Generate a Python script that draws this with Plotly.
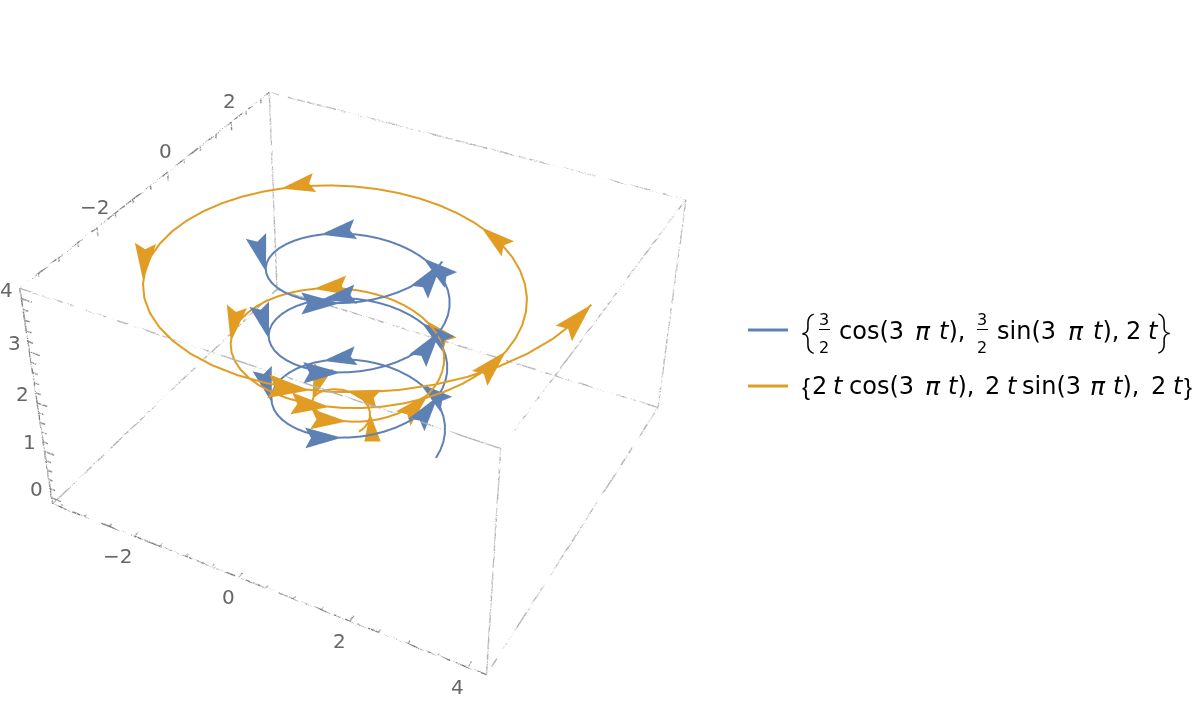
import numpy as np
import plotly.graph_objects as go

# ---- curve samples
blue_z = [0,.0278,.0556,.0833,.1111,.1389,.1667,.1944,.2222,.25,.2778,.3056,.3333,.3611,.3889,.4167,.4444,.4722,
          .5,.5278,.5556,.5833,.6111,.6389,.6667,.6944,.7222,.75,.7778,.8056,.8333,.8611,.8889,.9167,.9444,.9722,
          1,1.0278,1.0556,1.0833,1.1111,1.1389,1.1667,1.1944,1.2222,1.25,1.2778,1.3056,1.3333,1.3611,1.3889,1.4167,1.4444,1.4722,
          1.5,1.5278,1.5556,1.5833,1.6111,1.6389,1.6667,1.6944,1.7222,1.75,1.7778,1.8056,1.8333,1.8611,1.8889,1.9167,1.9444,1.9722,
          2,2.0278,2.0556,2.0833,2.1111,2.1389,2.1667,2.1944,2.2222,2.25,2.2778,2.3056,2.3333,2.3611,2.3889,2.4167,2.4444,2.4722,
          2.5,2.5278,2.5556,2.5833,2.6111,2.6389,2.6667,2.6944,2.7222,2.75,2.7778,2.8056,2.8333,2.8611,2.8889,2.9167,2.9444,2.9722,
          3,3.0278,3.0556,3.0833,3.1111,3.1389,3.1667,3.1944,3.2222,3.25,3.2778,3.3056,3.3333,3.3611,3.3889,3.4167,3.4444,3.4722,
          3.5,3.5278,3.5556,3.5833,3.6111,3.6389,3.6667,3.6944,3.7222,3.75,3.7778,3.8056,3.8333,3.8611,3.8889,3.9167,3.9444,3.9722,4]
blue_turn_x = [1.5,1.4872,1.4489,1.3858,1.299,1.19,1.0607,.9131,.75,.574,.3882,.1958,0,-.1958,-.3882,-.574,-.75,-.9131,-1.0607,-1.19,-1.299,-1.3858,-1.4489,-1.4872,
               -1.5,-1.4872,-1.4489,-1.3858,-1.299,-1.19,-1.0607,-.9131,-.75,-.574,-.3882,-.1958,0,.1958,.3882,.574,.75,.9131,1.0607,1.19,1.299,1.3858,1.4489,1.4872]
blue_turn_y = [0,.1958,.3882,.574,.75,.9131,1.0607,1.19,1.299,1.3858,1.4489,1.4872,1.5,1.4872,1.4489,1.3858,1.299,1.19,1.0607,.9131,.75,.574,.3882,.1958,
               0,-.1958,-.3882,-.574,-.75,-.9131,-1.0607,-1.19,-1.299,-1.3858,-1.4489,-1.4872,-1.5,-1.4872,-1.4489,-1.3858,-1.299,-1.19,-1.0607,-.9131,-.75,-.574,-.3882,-.1958]
blue_x = blue_turn_x*3 + [1.5]
blue_y = blue_turn_y*3 + [0]
orange_z = [0,.0556,.1111,.1667,.2222,.2778,.3333,.3889,.4444,.5,.5556,.6111,.6667,.7222,.7778,.8333,.8889,.9444] + blue_z[36:]
orange_x = [0,.0537,.0962,.1179,.1111,.0719,0,-.1007,-.2222,-.3536,-.4811,-.5903,-.6667,-.6976,-.6736,-.5893,-.4444,-.2444,
  0,.1342,.2732,.4146,.5556,.6933,.825,.9476,1.0585,1.1549,1.2342,1.2944,1.3333,1.3495,1.3416,1.3088,1.2509,1.168,1.0607,.93,.7778,.6059,.417,.2139,
  0,-.2212,-.4457,-.6697,-.8889,-1.0992,-1.2964,-1.4765,-1.6358,-1.7708,-1.8782,-1.9553,-2,-2.0104,-1.9855,-1.9248,-1.8283,-1.6969,-1.5321,-1.3359,-1.1111,-.861,-.5895,-.3009,
  0,.3082,.6183,.9248,1.2222,1.505,1.7678,2.0054,2.2132,2.3867,2.5222,2.6163,2.6667,2.6714,2.6295,2.5407,2.4056,2.2258,2.0035,1.7417,1.4444,1.1162,.7621,.388,
  0,-.3952,-.7908,-1.1799,-1.5556,-1.9108,-2.2392,-2.5344,-2.7905,-3.0026,-3.1661,-3.2773,-3.3333,-3.3323,-3.2734,-3.1566,-2.983,-2.7547,-2.4749,-2.1476,-1.7778,-1.3713,-.9346,-.475,
  0,.4822,.9634,1.4351,1.8889,2.3167,2.7106,3.0632,3.3679,3.6185,3.8101,3.9382,4]
orange_y = [0,.0144,.0556,.1179,.1925,.2683,.3333,.3757,.3849,.3536,.2778,.1582,0,-.1869,-.3889,-.5893,-.7698,-.9122,
  -1,-1.019,-1.0196,-1.0009,-.9623,-.9035,-.825,-.7271,-.6111,-.4784,-.3307,-.1704,0,.1777,.3595,.5421,.7222,.8962,1.0607,1.2121,1.3472,1.4628,1.5562,1.6249,
  1.6667,1.6799,1.6636,1.6168,1.5396,1.4324,1.2964,1.133,.9444,.7335,.5033,.2574,0,-.2647,-.532,-.7973,-1.0556,-1.3021,-1.5321,-1.741,-1.9245,-2.0787,-2.2002,-2.2858,
  -2.3333,-2.3409,-2.3075,-2.2327,-2.117,-1.9613,-1.7678,-1.5388,-1.2778,-.9886,-.6758,-.3445,0,.3517,.7046,1.0524,1.3889,1.7079,2.0035,2.2699,2.5019,2.6947,2.8441,2.9468,
  3,3.0019,2.9515,2.8486,2.6943,2.4902,2.2392,1.9446,1.6111,1.2437,.8484,.4315,0,-.4387,-.8771,-1.3075,-1.7222,-2.1138,-2.4749,-2.7988,-3.0792,-3.3106,-3.4881,-3.6077,
  -3.6667,-3.6628,-3.5955,-3.4646,-3.2717,-3.0191,-2.7106,-2.3505,-1.9444,-1.4988,-1.0209,-.5185,0]

# ---- arrow tips and travel directions
arrow_z = [.2667,.5333,.8,1.0667,1.3333,1.6,1.8667,2.1333,2.4,2.6667,2.9333,3.2,3.4667,3.7333,4]
blue_tip_x = [.4635,-1.2135,-1.2135,.4635,1.5]*3
blue_tip_y = [1.4266,.8817,-.8817,-1.4266,0]*3
blue_dir_x = [-1.4266,-.8817,.8817,1.4266,0]*3
blue_dir_y = [.4635,-1.2135,-1.2135,.4635,1.5]*3
orange_tip_x = [.0824,-.4315,-.6472,.3296,1.3333,.4944,-1.5101,-1.7259,.7416,2.6667,.9064,-2.5888,-2.8045,1.1536,4]
orange_tip_y = [.2536,.3135,-.4702,-1.0145,0,1.5217,1.0972,-1.2540,-2.2826,0,2.7898,1.8810,-2.0377,-3.5507,0]
orange_dir_x = [-.188,-.4852,.2985,1.0801,.2122,-1.4561,-1.2689,.85,2.3482,.2122,-2.7242,-2.0527,1.55,3.6163,.2122]
orange_dir_y = [.2842,-.3068,-.7719,.1278,1.3333,.6962,-1.3854,-1.97,.5398,2.6667,1.1082,-2.4641,-3.11,.9518,4]
dir_z = .2122

# ---- axes
x_range = [-3.651, 4.307]
y_range = [-3.959, 3.3]
z_range = [-0.136, 4.192]
x_major = [-2, 0, 2, 4]
y_major = [-2, 0, 2]
z_major = [0, 1, 2, 3, 4]
x_minor = [-3.5, -3, -2.5, -1.5, -1, -.5, .5, 1, 1.5, 2.5, 3, 3.5]
y_minor = [-3.5, -3, -2.5, -1.5, -1, -.5, .5, 1, 1.5, 2.5, 3]
z_minor = [.2,.4,.6,.8,1.2,1.4,1.6,1.8,2.2,2.4,2.6,2.8,3.2,3.4,3.6,3.8]

legend_lines = ["#5E81B5", "#E19C24"]
BLUE, ORANGE = legend_lines
EYE = np.array([1.297, -2.397, 1.998])
FIG_W, FIG_H, TOP, LEFT = 1671, 1350, -322, -469
MONO = 'DejaVu Sans'

def arrow_mesh(tx, ty, tz, dx, dy, dz, color, length=.6, half=.17, notch=.84):
    view = EYE / np.linalg.norm(EYE)
    vx, vy, vz, ii, jj, kk = [], [], [], [], [], []
    for a, b, c, u, v, w in zip(tx, ty, tz, dx, dy, [dz]*len(tx)):
        tip = np.array([a, b, c]); d = np.array([u, v, w], float)
        d = d - d.dot(view)*view
        d /= np.linalg.norm(d)
        s = np.cross(d, view); s /= np.linalg.norm(s)
        pts = [tip, tip-length*d+half*s, tip-notch*length*d, tip-length*d-half*s]
        n = len(vx)
        for p in pts:
            vx.append(p[0]); vy.append(p[1]); vz.append(p[2])
        ii += [n, n]; jj += [n+1, n+2]; kk += [n+2, n+3]
    return go.Mesh3d(x=vx, y=vy, z=vz, i=ii, j=jj, k=kk, color=color, flatshading=True, opacity=1,
                     lighting=dict(ambient=1, diffuse=0, specular=0, roughness=1, fresnel=0),
                     hoverinfo='skip', showscale=False, showlegend=False)

def lines3d(segs, color, width=3, pieces=40):
    X, Y, Z = [], [], []
    for p, q in segs:
        a = np.linspace(p, q, pieces + 1)
        X += list(a[:, 0]) + [None]; Y += list(a[:, 1]) + [None]; Z += list(a[:, 2]) + [None]
    return go.Scatter3d(x=X, y=Y, z=Z, mode='lines', line=dict(color=color, width=width), hoverinfo='skip', showlegend=False)

x0, x1 = x_range; y0, y1 = y_range; z0, z1 = z_range
light_edges = [((x1,y0,z0),(x1,y1,z0)), ((x1,y1,z0),(x0,y1,z0)), ((x0,y1,z0),(x0,y0,z0)),
               ((x0,y0,z1),(x1,y0,z1)), ((x1,y0,z1),(x1,y1,z1)), ((x1,y1,z1),(x0,y1,z1)),
               ((x1,y0,z0),(x1,y0,z1)), ((x1,y1,z0),(x1,y1,z1)), ((x0,y1,z0),(x0,y1,z1))]
dark_edges = [((x0,y0,z0),(x1,y0,z0)), ((x0,y0,z1),(x0,y1,z1)), ((x0,y0,z0),(x0,y0,z1))]
ticks = []
for v, n in [(t, .13) for t in x_major] + [(t, .07) for t in x_minor]:
    ticks.append(((v,y0,z0),(v,y0+n,z0)))
for v, n in [(t, .16) for t in y_major] + [(t, .08) for t in y_minor]:
    ticks.append(((x0,v,z1),(x0,v,z1-n)))
for v, n in [(t, .2) for t in z_major] + [(t, .1) for t in z_minor]:
    ticks.append(((x0,y0,v),(x0+n,y0,v)))

fig = go.Figure()
fig.add_trace(lines3d(light_edges, '#b4b4b4'))
fig.add_trace(lines3d(dark_edges, '#808080'))
fig.add_trace(lines3d(ticks, '#8c8c8c', pieces=4))
fig.add_trace(go.Scatter3d(x=blue_x, y=blue_y, z=blue_z, mode='lines', line=dict(color=BLUE, width=4), hoverinfo='skip', showlegend=False))
fig.add_trace(go.Scatter3d(x=orange_x, y=orange_y, z=orange_z, mode='lines', line=dict(color=ORANGE, width=4), hoverinfo='skip', showlegend=False))
fig.add_trace(arrow_mesh(blue_tip_x, blue_tip_y, arrow_z, blue_dir_x, blue_dir_y, dir_z, BLUE))
fig.add_trace(arrow_mesh(orange_tip_x, orange_tip_y, arrow_z, orange_dir_x, orange_dir_y, dir_z, ORANGE))

def tick_text(v):
    return str(v).replace('-', '\u2212')
tick_font = dict(family=MONO, size=20, color='#666666')
eps = 1e-3
scene_notes = []
for v in x_major:
    scene_notes.append(dict(x=v, y=y0+eps, z=z0+eps, text=tick_text(v), showarrow=False, xshift=-17 if v < 0 else -10, yshift=-20, font=tick_font))
for v in y_major:
    scene_notes.append(dict(x=x0+eps, y=v, z=z1-eps, text=tick_text(v), showarrow=False, xshift=-2, yshift=21, font=tick_font))
for v in z_major:
    scene_notes.append(dict(x=x0+eps, y=y0+eps, z=v, text=tick_text(v), showarrow=False, xshift=-15, yshift=9, font=tick_font))

def px(x): return (x - LEFT) / FIG_W
def py(y): return 1 - (y - TOP) / FIG_H
def note(x, y, text, size=24, anchor='left', family=MONO, weight=None):
    f = dict(family=family, size=size, color='#000000')
    if weight: f['weight'] = weight
    return dict(xref='paper', yref='paper', x=px(x), y=py(y), xanchor=anchor, yanchor='middle', text=text, showarrow=False,
                font=f, borderpad=0, borderwidth=0)
T = '<i>t</i>'; PI = '<i>\u03c0</i>'
row1 = 331; row2 = 386
notes = [
    note(801, row1, '{', 40, family='Roboto', weight=200),
    note(824, 319.5, '3', 16, 'center'), note(824, 348, '2', 16, 'center'),
    note(839.3, row1, 'cos(3'), note(914.5, row1, PI, 25), note(939.3, row1, f'{T}),'),
    note(982, 319.5, '3', 16, 'center'), note(982, 348, '2', 16, 'center'),
    note(997.3, row1, 'sin(3'), note(1067.8, row1, PI, 25), note(1093.3, row1, f'{T}),'),
    note(1126, row1, '2'), note(1148.3, row1, T),
    note(1158, row1, '}', 40, family='Roboto', weight=200),
    note(801.7, row2, '{', 24, family='Liberation Sans'), note(811.7, row2, '2'), note(833.3, row2, T), note(849.3, row2, 'cos(3'),
    note(924.5, row2, PI, 25), note(948.3, row2, f'{T}),'),
    note(985, row2, '2'), note(1006.7, row2, T), note(1021.7, row2, 'sin(3'), note(1089.5, row2, PI, 25), note(1113.3, row2, f'{T}),'),
    note(1150.7, row2, '2'), note(1173.3, row2, T), note(1184, row2, '}', 24, family='Liberation Sans'),
]
def hline(a, b, y, color='#000000', width=1):
    return dict(type='line', xref='paper', yref='paper', x0=px(a), x1=px(b), y0=py(y), y1=py(y), line=dict(color=color, width=width))
shapes = [hline(748, 788, 330, BLUE, 3), hline(748, 788, 386, ORANGE, 3), hline(819, 830, 329.5), hline(977, 988, 329.5)]

blank = dict(visible=False, showspikes=False)
fig.update_layout(
    width=FIG_W, height=FIG_H, autosize=False, margin=dict(l=0, r=0, t=0, b=0), paper_bgcolor='white', showlegend=False,
    annotations=notes, shapes=shapes,
    scene=dict(domain=dict(x=[0, 1], y=[0, 1]), bgcolor='white', annotations=scene_notes,
               xaxis=dict(range=x_range, **blank), yaxis=dict(range=y_range, **blank), zaxis=dict(range=z_range, **blank),
               aspectmode='manual',
               aspectratio=dict(x=1, y=(y1-y0)/(x1-x0), z=(z1-z0)/(x1-x0)),
               camera=dict(eye=dict(x=EYE[0], y=EYE[1], z=EYE[2]), center=dict(x=0, y=0, z=0), up=dict(x=0, y=0, z=1))))
shift = ("var d=document.querySelector('.plotly-graph-div');d.style.position='absolute';d.style.left='%dpx';"
         "d.style.top='%dpx';document.body.style.margin='0';document.body.style.overflow='hidden';"
         "document.documentElement.style.overflow='hidden';" % (LEFT, TOP))
fig.write_html("out.html", post_script=shift, config=dict(displayModeBar=False))
